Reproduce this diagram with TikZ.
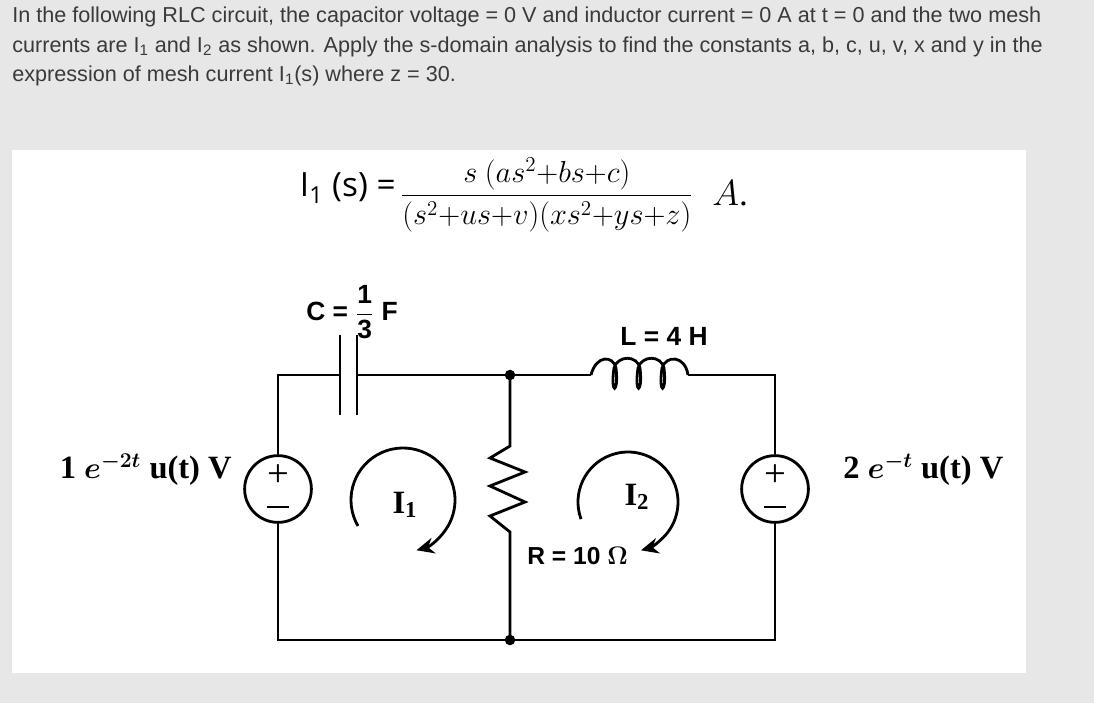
\documentclass[tikz,border=0pt]{standalone}
\usepackage{fontspec}
\usepackage{amsmath}
\setmainfont{Liberation Serif}
\newfontfamily\arialf{Liberation Sans}
\newfontfamily\opensf{Open Sans}
\usetikzlibrary{decorations.pathmorphing,arrows.meta}
\definecolor{bg}{HTML}{E7E7E7}
\definecolor{txt}{HTML}{3A3A3A}
\tikzset{
  wire/.style={line width=1.6pt},
  q/.style={font=\arialf\fontsize{12.3}{15}\selectfont, text=txt, anchor=base west, inner sep=0},
  lab/.style={font=\arialf\bfseries\fontsize{15}{17}\selectfont, inner sep=0},
  big/.style={font=\bfseries\fontsize{18.5}{21}\selectfont, inner sep=0},
  src/.style={circle, draw, line width=1.6pt, minimum size=38pt, inner sep=0},
  dot/.style={circle, fill, inner sep=0, minimum size=6pt},
  mesh/.style={line width=1.6pt, -{Stealth[length=10pt,width=9pt]}}
}
\begin{document}
\begin{tikzpicture}[x=0.02cm,y=-0.02cm]
\fill[bg] (0,0) rectangle (1094,703);
\fill[white] (12,150) rectangle (1026,673);
\node[q] (t1) at (12,22) {In the following RLC circuit, the capacitor voltage = 0 V and inductor current = 0 A at t = 0 and the two mesh};
\node[q] (t2) at (12,52) {currents are I\textsubscript{1} and I\textsubscript{2} as shown. Apply the s-domain analysis to find the constants a, b, c, u, v, x and y in the};
\node[q] (t3) at (12,81) {expression of mesh current I\textsubscript{1}(s) where z = 30.};
% formula
\node[font=\opensf\fontsize{19}{21}\selectfont, anchor=east, inner sep=0] (f1) at (396,188) {I\textsubscript{1} (s) =};
\node[anchor=west, inner sep=0] (f2) at (400,195) {\fontsize{17}{20}\selectfont$\dfrac{s\ (as^2{+}bs{+}c)}{(s^2{+}us{+}v)(xs^2{+}ys{+}z)}$};
\node[anchor=west, inner sep=0, font=\fontsize{20}{22}\selectfont] (f3) at (712,193) {$A$.};
% nodes
\coordinate (tl) at (278,375); \coordinate (tm) at (510,375); \coordinate (tr) at (775,375);
\coordinate (bl) at (278,640); \coordinate (bm) at (510,640); \coordinate (br) at (775,640);
\node[src] (s1) at (278,489) {};
\node[src] (s2) at (775,489) {};
\node[font=\fontsize{22}{22}\selectfont] at (278,476) {+};
\node[font=\fontsize{22}{22}\selectfont] at (775,476) {+};
\draw[wire] (267,507)--(289,507); \draw[wire] (764,507)--(786,507);
\node[dot] (d1) at (tm) {}; \node[dot] (d2) at (bm) {};
% wires
\coordinate (c1) at (340,375); \coordinate (c2) at (357,375);
\draw[wire] (s1.north) -- (tl) -- (c1);
\draw[wire] (340,335) -- (340,415); \draw[wire] (357,335) -- (357,415);
\draw[wire] (c2) -- (tm) -- (591,375);
\draw[wire] (591,375) .. controls (596,355) and (613,355) .. (616,368)
  .. controls (619,395) and (610,395) .. (614,368)
  .. controls (618,355) and (637,355) .. (640,368)
  .. controls (643,395) and (634,395) .. (638,368)
  .. controls (642,355) and (661,355) .. (664,368)
  .. controls (667,395) and (658,395) .. (662,368)
  .. controls (666,355) and (685,355) .. (688,375);
\draw[wire] (688,375) -- (tr) -- (s2.north);
\draw[wire] (s2.south) -- (br) -- (bm) -- (bl) -- (s1.south);
\draw[wire] (tm) -- (510,446) -- (490,458) -- (525,472) -- (490,486) -- (525,502) -- (490,516) -- (510,532) -- (bm);
% labels
\node[lab] (lc) at (352,312) {C = $\dfrac{\textbf{\arialf 1}}{\textbf{\arialf 3}}$ F};
\node[lab] (ll) at (664,336) {L = 4 H};
\node[lab, anchor=west, font=\arialf\bfseries\fontsize{14}{16}\selectfont] (lr) at (527,556) {R = 10 $\boldsymbol{\Omega}$};
\node[big, anchor=east] (v1) at (232,470) {1 $\boldsymbol{e^{-2t}}$ u(t) V};
\node[big, anchor=west] (v2) at (843,470) {2 $\boldsymbol{e^{-t}}$ u(t) V};
\node[big] (i1) at (405,505) {I\textsubscript{1}};
\node[big] (i2) at (637,497) {I\textsubscript{2}};
\draw[mesh] (403,500) ++(150:52) arc[start angle=150, end angle=435, radius=52];
\draw[mesh] (628,502) ++(160:50) arc[start angle=160, end angle=435, radius=50];
\end{tikzpicture}
\end{document}
